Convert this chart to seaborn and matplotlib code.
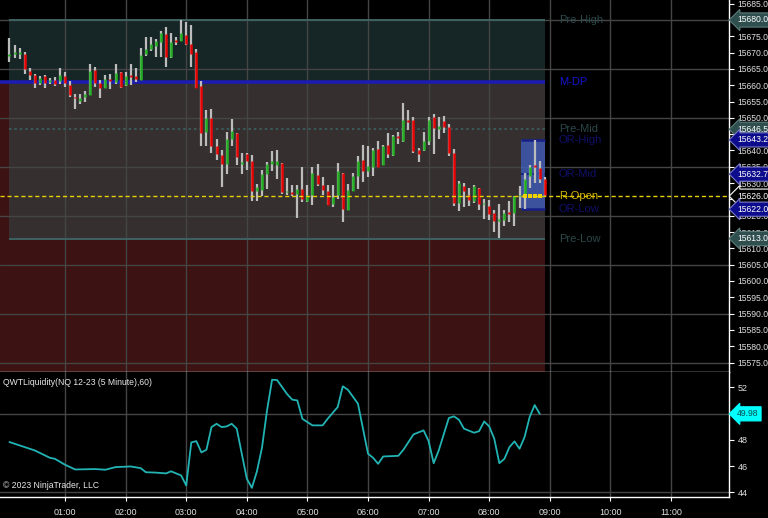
import matplotlib
matplotlib.use("Agg")
import matplotlib.pyplot as plt
from matplotlib.patches import Rectangle
import seaborn as sns
import pandas as pd
import numpy as np

# NQ 12-23, 5 minute bars, first bar closes at 00:05
bar_minutes = 5
first_bar = "00:05"
opens = [15669.0, 15669.6, 15669.5, 15669.5, 15664.4, 15663.2, 15660.6, 15662.7, 15661.0, 15661.7,
         15661.4, 15662.7, 15660.1, 15656.5, 15655.3, 15656.4, 15657.1, 15664.7, 15660.6, 15659.3,
         15661.9, 15661.1, 15664.0, 15660.1, 15663.0, 15662.7, 15661.7, 15669.5, 15671.1, 15672.0,
         15673.2, 15675.6, 15668.8, 15673.6, 15673.6, 15675.4, 15672.6, 15670.1, 15659.8, 15645.8,
         15650.1, 15641.3, 15638.7, 15636.0, 15643.6, 15645.3, 15636.0, 15638.9, 15636.9, 15627.7,
         15628.0, 15632.8, 15635.9, 15635.7, 15636.2, 15627.2, 15627.2, 15626.8, 15628.2, 15624.5,
         15626.2, 15632.6, 15629.5, 15627.7, 15623.7, 15626.2, 15633.1, 15621.9, 15627.5, 15632.3,
         15637.2, 15633.6, 15635.0, 15640.5, 15635.4, 15641.8, 15638.7, 15644.3, 15642.8, 15649.3,
         15649.4, 15640.0, 15640.2, 15642.8, 15650.2, 15646.5, 15648.9, 15647.2, 15639.2, 15623.9,
         15629.2, 15626.5, 15624.4, 15628.5, 15623.5, 15622.9, 15620.9, 15618.3, 15618.6, 15621.0,
         15620.7, 15626.0, 15626.0, 15632.1, 15635.7, 15634.6, 15631.3]
highs = [15674.4, 15672.4, 15671.3, 15670.1, 15665.2, 15663.4, 15662.9, 15663.2, 15662.2, 15662.4,
         15665.2, 15664.0, 15661.3, 15657.3, 15657.3, 15658.3, 15666.4, 15665.7, 15661.7, 15663.2,
         15663.4, 15666.4, 15664.2, 15664.2, 15666.4, 15665.4, 15671.3, 15674.9, 15674.9, 15674.2,
         15676.7, 15678.0, 15675.9, 15674.9, 15680.0, 15679.5, 15678.5, 15671.1, 15661.3, 15652.5,
         15652.7, 15643.6, 15640.0, 15645.8, 15649.7, 15645.5, 15639.2, 15639.2, 15638.7, 15629.8,
         15633.9, 15636.5, 15639.7, 15640.2, 15636.2, 15631.6, 15629.5, 15629.5, 15635.0, 15629.5,
         15635.0, 15636.0, 15631.8, 15629.3, 15629.5, 15636.2, 15633.1, 15629.8, 15633.1, 15638.2,
         15641.8, 15641.5, 15640.8, 15643.0, 15641.8, 15645.5, 15644.8, 15645.8, 15654.5, 15652.3,
         15650.4, 15640.8, 15645.8, 15650.2, 15651.3, 15650.2, 15650.6, 15648.2, 15640.5, 15630.6,
         15630.1, 15628.5, 15629.5, 15628.5, 15625.2, 15624.7, 15621.7, 15623.7, 15621.9, 15624.4,
         15626.0, 15629.2, 15633.1, 15635.7, 15643.25, 15636.7, 15632.0]
lows = [15667.2, 15668.5, 15668.0, 15663.4, 15661.7, 15659.3, 15660.1, 15659.3, 15660.3, 15659.9,
        15660.3, 15659.6, 15656.5, 15652.7, 15654.2, 15654.8, 15657.1, 15659.6, 15656.2, 15659.3,
        15658.9, 15660.3, 15659.3, 15659.9, 15660.1, 15661.1, 15661.7, 15669.1, 15670.5, 15668.8,
        15668.8, 15665.7, 15668.3, 15672.4, 15673.6, 15672.4, 15665.7, 15659.3, 15641.3, 15641.3,
        15639.2, 15637.2, 15628.8, 15632.9, 15641.3, 15635.4, 15632.9, 15634.1, 15624.6, 15624.6,
        15626.0, 15628.2, 15633.6, 15631.3, 15626.8, 15626.5, 15626.0, 15619.4, 15624.1, 15624.1,
        15623.4, 15629.2, 15626.2, 15623.4, 15622.7, 15625.0, 15618.0, 15621.9, 15627.5, 15628.2,
        15630.2, 15631.8, 15632.3, 15635.0, 15635.4, 15637.7, 15638.4, 15642.0, 15642.5, 15646.4,
        15639.2, 15636.4, 15639.7, 15641.8, 15638.9, 15643.5, 15645.3, 15638.2, 15623.1, 15621.4,
        15622.7, 15623.1, 15624.0, 15621.9, 15619.1, 15618.6, 15615.0, 15613.2, 15617.0, 15618.0,
        15617.0, 15622.5, 15622.0, 15628.5, 15630.1, 15630.1, 15626.0]
closes = [15669.6, 15670.0, 15670.3, 15665.0, 15663.2, 15660.6, 15662.2, 15660.6, 15661.5, 15660.3,
          15663.2, 15660.6, 15657.1, 15656.0, 15656.0, 15657.3, 15664.4, 15660.6, 15659.3, 15661.9,
          15661.4, 15663.9, 15659.6, 15662.9, 15662.5, 15661.9, 15669.3, 15671.1, 15672.6, 15673.6,
          15675.9, 15668.8, 15673.4, 15673.4, 15675.9, 15672.6, 15669.5, 15659.3, 15645.3, 15650.1,
          15641.3, 15638.9, 15636.0, 15643.5, 15646.1, 15637.9, 15636.1, 15636.9, 15627.7, 15628.7,
          15632.8, 15635.9, 15636.8, 15636.7, 15627.2, 15627.5, 15626.8, 15628.2, 15625.0, 15626.2,
          15633.1, 15629.8, 15628.0, 15623.4, 15625.8, 15633.6, 15622.1, 15628.0, 15632.3, 15636.7,
          15633.6, 15635.1, 15640.2, 15635.0, 15641.5, 15639.0, 15644.3, 15643.7, 15649.2, 15648.6,
          15639.7, 15639.0, 15642.8, 15649.2, 15646.9, 15647.5, 15647.2, 15639.2, 15623.9, 15630.1,
          15627.5, 15624.8, 15629.0, 15623.7, 15624.0, 15620.4, 15618.3, 15619.0, 15620.9, 15620.4,
          15626.0, 15626.0, 15631.3, 15634.9, 15634.9, 15631.3, 15626.5]

# session levels
pre_high = 15680.00
pre_mid = 15646.50
pre_low = 15613.00
m_dp = 15661.00
or_high = 15643.25
or_mid = 15632.75
or_low = 15622.00
r_open = 15626.00
or_start = "08:31"
or_bars = 4

# QWTLiquidity(60)
liq_times = ["00:05", "00:30", "00:45", "00:50", "01:00", "01:10", "01:30", "01:40", "01:50", "02:05",
             "02:15", "02:20", "02:30", "02:40", "02:45", "02:55", "03:00", "03:05", "03:10", "03:15",
             "03:20", "03:25", "03:30", "03:35", "03:40", "03:45", "03:50", "04:00", "04:05", "04:10",
             "04:15", "04:20", "04:25", "04:30", "04:40", "04:45", "04:50", "04:55", "05:05", "05:15",
             "05:20", "05:30", "05:35", "05:40", "05:50", "06:00", "06:05", "06:10", "06:15", "06:30",
             "06:35", "06:45", "06:55", "07:00", "07:05", "07:10", "07:20", "07:25", "07:30", "07:35",
             "07:45", "07:50", "07:55", "08:00", "08:05", "08:10", "08:15", "08:20", "08:25", "08:30",
             "08:35", "08:40", "08:45", "08:50"]
liq_values = [47.83, 47.19, 46.63, 46.55, 46.10, 45.74, 45.77, 45.72, 45.92, 45.97,
              45.84, 45.53, 45.50, 45.44, 45.60, 45.28, 44.52, 47.80, 47.90, 47.04,
              47.24, 48.97, 49.22, 48.97, 49.02, 49.22, 48.85, 45.03, 44.34, 45.60,
              47.40, 50.24, 52.58, 52.55, 51.47, 51.06, 51.00, 49.60, 49.10, 49.10,
              49.60, 50.50, 52.08, 51.82, 50.76, 46.94, 46.63, 46.17, 46.73, 46.78,
              47.24, 48.41, 48.72, 47.90, 46.22, 47.19, 49.66, 49.79, 49.53, 48.85,
              48.54, 48.66, 49.40, 49.02, 48.08, 46.22, 46.55, 47.44, 47.88, 47.32,
              48.21, 49.73, 50.65, 49.98]
liq_last = 49.98

hour_labels = ["01:00", "02:00", "03:00", "04:00", "05:00", "06:00",
               "07:00", "08:00", "09:00", "10:00", "11:00"]


def to_min(s):
    return pd.to_timedelta(s + ":00").total_seconds() / 60


bars = pd.DataFrame({"open": opens, "high": highs, "low": lows, "close": closes})
bars["t"] = to_min(first_bar) + bar_minutes * np.arange(len(bars))
liq = pd.DataFrame({"t": [to_min(s) for s in liq_times], "value": liq_values})
hour_ticks = [to_min(s) for s in hour_labels]
t_end = bars["t"].iloc[-1]
t_first = bars["t"].iloc[0]

sns.set_theme(style="dark", rc={"figure.facecolor": "black", "axes.facecolor": "black"})
plt.rcParams["font.family"] = ["Liberation Sans", "DejaVu Sans"]

GRID = "#454545"
TXT = "#e0e0e0"
FS = 6.2

fig = plt.figure(figsize=(7.68, 5.18), dpi=100, facecolor="black")
ax = fig.add_axes([0, 0.2809, 0.9492, 0.7191])
ax2 = fig.add_axes([0, 0.0415, 0.9492, 0.2394], sharex=ax)

xmin, xmax = -4.4, 717.4
ax.set_xlim(xmin, xmax)
ax.set_ylim(15571.94, 15686.13)
ax2.set_ylim(43.68, 53.13)

# ---- main price panel
ax.fill_between([xmin - 10, t_end], 15500, m_dp, color="#3c1212", lw=0, zorder=1)
ax.fill_between([t_first, t_end], pre_low, pre_high, color="#2f4f4f", alpha=0.48, lw=0, zorder=1.2)
ax.hlines([pre_high, pre_low], t_first, t_end, color="#3e6262", lw=1.4, zorder=2.5)
ax.hlines(pre_mid, t_first, t_end, color="#3a5c5c", lw=1.4, linestyles=(0, (1.2, 1.6)), zorder=2.5)
ax.hlines(m_dp, xmin - 10, t_end, color="#1c1cb0", lw=2.6, zorder=2.5)

for lvl in np.arange(15575, 15686, 15):
    ax.axhline(lvl, color=GRID, lw=1, zorder=2)
for h in hour_ticks:
    ax.axvline(h, color=GRID, lw=1, zorder=2)
    ax2.axvline(h, color=GRID, lw=1, zorder=1)

# opening range box
or_t0 = to_min(or_start)
ax.add_patch(Rectangle((or_t0, or_low), t_end - or_t0, or_high - or_low,
                       facecolor="#4169e1", alpha=0.62, edgecolor="none", zorder=3))
ax.hlines([or_high, or_low], or_t0, t_end, color="#16208a", lw=1.8, zorder=3.2)
ax.hlines(or_mid, or_t0, t_end, color="#101a80", lw=1.2, linestyles=(0, (2, 1.5)), zorder=3.2)

# candles
up = bars["close"] >= bars["open"]
body_lo = np.minimum(bars["open"], bars["close"])
body_hi = np.maximum(bars["open"], bars["close"])
body_hi = np.maximum(body_hi, body_lo + 0.5)
ax.vlines(bars["t"], bars["low"], bars["high"], color="#bcbcbc", lw=1.6, zorder=4)
ax.vlines(bars["t"], body_lo, body_hi, colors=np.where(up, "#22b022", "#e60000"), lw=1.8, zorder=5)

# regular open
ax.axhline(r_open, color="#e6d000", lw=1, ls=(0, (3, 2)), zorder=6)
or_dots = bars["t"].iloc[-or_bars - 1:-1]
ax.scatter(or_dots, [r_open] * len(or_dots), marker="s", s=9, color="#f0d400", zorder=6.5, lw=0)

labels = [(pre_high, "Pre-High", "#2c4848"), (m_dp, "M-DP", "#1414d2"),
          (pre_mid, "Pre-Mid", "#2c4848"), (or_high, "OR-High", "#10106a"),
          (or_mid, "OR-Mid", "#10106a"), (r_open, "R-Open", "#d2b600"),
          (or_low, "OR-Low", "#10106a"), (pre_low, "Pre-Low", "#2c4848")]
for y, s, c in labels:
    ax.text(549, y, s, color=c, fontsize=8, ha="left", va="center", zorder=7)

ax.yaxis.tick_right()
ax.set_yticks(np.arange(15575, 15686, 5))
ax.set_yticklabels([f"{v:.2f}" for v in np.arange(15575, 15686, 5)])
ax.tick_params(axis="y", colors="white", labelcolor=TXT, labelsize=FS, length=3.5, width=0.8, pad=2.5,
               right=True, left=False)
ax.tick_params(axis="x", bottom=False, labelbottom=False)
ax.grid(False)
for side in ["left", "top"]:
    ax.spines[side].set_visible(False)
for side in ["right", "bottom"]:
    ax.spines[side].set_color("white")
    ax.spines[side].set_linewidth(1)


def price_tag(axis, y, text, fc, ec, tc):
    axis.text(1.011, y, text, transform=axis.get_yaxis_transform(), ha="left", va="center",
              fontsize=FS, color=tc, clip_on=False, zorder=10,
              bbox=dict(boxstyle="larrow,pad=0.3", fc=fc, ec=ec, lw=0.8))


tags = [(pre_high, "#2f4f4f", "#5c7c7c", "white"), (pre_mid, "#2f4f4f", "#5c7c7c", "white"),
        (or_high, "#0c0c8c", "#7a7ac8", "white"), (or_mid, "#0c0c8c", "#7a7ac8", "white"),
        (r_open, "black", "white", "white"), (or_low, "#0c0c8c", "#7a7ac8", "white"),
        (pre_low, "#2f4f4f", "#5c7c7c", "white")]
for y, fc, ec, tc in tags:
    price_tag(ax, y, f"{y:.2f}", fc, ec, tc)

# ---- indicator panel
for lvl in [44, 50]:
    ax2.axhline(lvl, color=GRID, lw=1, zorder=1)
sns.lineplot(data=liq, x="t", y="value", ax=ax2, color="#22b4b4", lw=1.3, zorder=3)
ax2.set_xlabel("")
ax2.set_ylabel("")
ax2.yaxis.tick_right()
ax2.set_yticks([44, 46, 48, 50, 52])
ax2.set_yticklabels(["44", "46", "48", "50", "52"])
ax2.tick_params(axis="y", colors="white", labelcolor=TXT, labelsize=FS + 0.3, length=3.5, width=0.8,
                pad=3, right=True, left=False)
ax2.set_xticks(hour_ticks)
ax2.set_xticklabels(hour_labels)
ax2.tick_params(axis="x", colors="white", labelcolor=TXT, labelsize=FS + 0.3, length=3, width=0.8,
                pad=5, bottom=True)
ax2.grid(False)
ax2.spines["left"].set_visible(False)
ax2.spines["top"].set_visible(False)
for side in ["right", "bottom"]:
    ax2.spines[side].set_color("white")
    ax2.spines[side].set_linewidth(1)
price_tag(ax2, liq_last, f"{liq_last:.2f}", "#00ffff", "#00ffff", "#0a4a4a")

ax2.text(0.004, 0.923, "QWTLiquidity(NQ 12-23 (5 Minute),60)", transform=ax2.transAxes,
         color="#e8e8e8", fontsize=FS, ha="left", va="center")
ax2.text(0.004, 0.085, "\u00a9 2023 NinjaTrader, LLC", transform=ax2.transAxes,
         color="#e8e8e8", fontsize=FS, ha="left", va="center")

fig.savefig("out.png", dpi=100, facecolor="black")
